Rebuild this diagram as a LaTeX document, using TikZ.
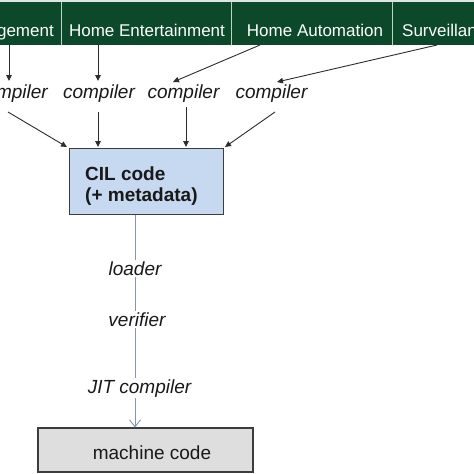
\documentclass[tikz,border=0pt]{standalone}
\usepackage{fontspec}
\setmainfont{Liberation Sans}
\usetikzlibrary{arrows.meta}
\definecolor{bandgreen}{RGB}{12,72,42}
\definecolor{stripgray}{RGB}{222,228,224}
\definecolor{dividercol}{RGB}{190,210,198}
\definecolor{cilblue}{RGB}{198,217,241}
\definecolor{mcgray}{RGB}{222,222,222}
\definecolor{linegray}{RGB}{132,150,172}
\definecolor{darkline}{RGB}{45,45,45}
\definecolor{boxline}{RGB}{60,60,60}
\tikzset{
  bandtext/.style={text=white, font=\fontsize{17}{20}\selectfont, inner sep=0pt},
  complabel/.style={text=black!90, font=\fontsize{19}{22}\selectfont\itshape, inner sep=0pt},
  steplabel/.style={text=black!90, font=\fontsize{19}{22}\selectfont\itshape, inner sep=1.5pt, fill=white},
  arr/.style={draw=darkline, line width=0.9pt, -{Triangle[length=6pt,width=5.5pt]}},
  divider/.style={draw=dividercol, line width=0.8pt},
  cilbox/.style={draw=boxline, fill=cilblue, line width=1pt, minimum width=154pt, minimum height=66pt, inner sep=0pt},
  ciltext/.style={text=black!90, font=\fontsize{19}{22}\selectfont\bfseries, inner sep=0pt},
  mcbox/.style={draw=boxline, fill=mcgray, line width=1.2pt, minimum width=215pt, minimum height=44pt, inner sep=0pt},
  mctext/.style={text=black!90, font=\fontsize{19}{22}\selectfont, inner sep=0pt},
  flow/.style={draw=linegray, line width=0.9pt, -{Straight Barb[length=7pt,width=11pt,line width=0.9pt]}}
}
\begin{document}
\begin{tikzpicture}[x=1pt,y=-1pt]
\useasboundingbox (0,0) rectangle (474,474);
\clip (0,0) rectangle (474,474);
\fill[white] (0,0) rectangle (474,474);
% top band
\fill[stripgray] (0,0) rectangle (474,1.8);
\fill[bandgreen] (0,1.8) rectangle (474,45);
\draw[divider] (61,1.8) -- (61,45);
\draw[divider] (231,1.8) -- (231,45);
\draw[divider] (392,1.8) -- (392,45);
\node[bandtext, anchor=base east] (mgmt) at (54,36.5) {Management};
\node[bandtext, anchor=base] (ent) at (147,36.5) {Home Entertainment};
\node[bandtext, anchor=base] (auto) at (315,36.5) {Home Automation};
\node[bandtext, anchor=base west] (surv) at (402,36.5) {Surveillance};
% compiler labels
\node[complabel, anchor=base east] (c1) at (48,98) {compiler};
\node[complabel, anchor=base] (c2) at (99,98) {compiler};
\node[complabel, anchor=base] (c3) at (183.5,98) {compiler};
\node[complabel, anchor=base] (c4) at (271.5,98) {compiler};
% arrows band -> compilers
\coordinate (t1) at (9,45);   \coordinate (e1) at (9,81);
\coordinate (t2) at (98,45);  \coordinate (e2) at (98,81);
\coordinate (t3) at (260,45); \coordinate (e3) at (173,82);
\coordinate (t4) at (437,45); \coordinate (e4) at (277,82);
\draw[arr] (t1) -- (e1);
\draw[arr] (t2) -- (e2);
\draw[arr] (t3) -- (e3);
\draw[arr] (t4) -- (e4);
% CIL box
\node[cilbox] (cil) at (146,181) {};
\node[ciltext, anchor=base west] (cilA) at (85,180) {CIL code};
\node[ciltext, anchor=base west] (cilB) at (85,201.5) {(+ metadata)};
% arrows compilers -> CIL
\coordinate (u1) at (8,112);   \coordinate (f1) at (67,147);
\coordinate (u2) at (98,112);  \coordinate (f2) at (98,147);
\coordinate (u3) at (186,107); \coordinate (f3) at (186,147);
\coordinate (u4) at (275,112); \coordinate (f4) at (225,147);
\draw[arr] (u1) -- (f1);
\draw[arr] (u2) -- (f2);
\draw[arr] (u3) -- (f3);
\draw[arr] (u4) -- (f4);
% machine code box
\node[mcbox] (mc) at (145.5,450) {};
\node[mctext, anchor=base] (mcA) at (152,459.5) {machine code};
% flow line
\coordinate (vtop) at (135,214.5);
\coordinate (vbot) at (135,427.5);
\draw[flow] (vtop) -- (vbot);
\node[steplabel, anchor=base] (ld) at (135,275) {loader};
\node[steplabel, anchor=base] (vf) at (137,326) {verifier};
\node[steplabel, anchor=base] (jit) at (139.5,393) {JIT compiler};
\end{tikzpicture}
\end{document}
